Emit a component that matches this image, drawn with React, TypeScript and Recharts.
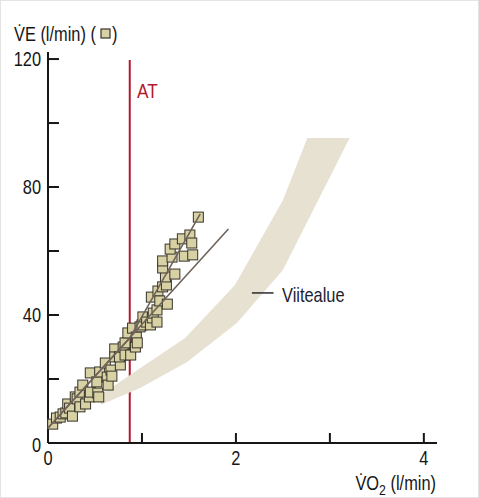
import React from 'react';
import { ScatterChart, Scatter, XAxis, YAxis, ReferenceLine } from 'recharts';

const FONT = "'Liberation Sans', Arial, sans-serif";
const SQUEEZE = 0.82; // condensed look of the original lettering
const INK = '#161616';
const RED = '#b3192c';
const BAND = '#e7e1d1';
const MARKER_FILL = '#d7d1a3';
const MARKER_EDGE = '#37332a';
const FIT = '#6e625a';

// measured values: oxygen uptake VO2 (l/min) vs ventilation VE (l/min)
const vo2 = [
  0.05, 0.09, 0.13, 0.16, 0.19, 0.21, 0.23, 0.26, 0.29, 0.31, 0.34, 0.34, 0.37, 0.4, 0.44, 0.45, 0.45,
  0.52, 0.53, 0.54, 0.55, 0.61, 0.63, 0.64, 0.67, 0.68, 0.71, 0.71, 0.77, 0.76, 0.8, 0.82, 0.82, 0.85,
  0.88, 0.9, 0.93, 0.94, 0.95, 0.98, 1.0, 1.01, 1.05, 1.09, 1.11, 1.12, 1.16, 1.16, 1.1, 1.17, 1.19,
  1.27, 1.22, 1.26, 1.25, 1.35, 1.22, 1.22, 1.32, 1.3, 1.35, 1.43, 1.45, 1.51, 1.53, 1.54, 1.6,
];
const ve = [
  5.9, 7.8, 8.1, 9.1, 9.4, 12.2, 10.9, 8.4, 14.4, 13.8, 11.3, 15.9, 18.1, 12.2, 14.4, 21.9, 15.9,
  19.1, 15.6, 14.4, 22.2, 25.0, 20.6, 18.1, 22.8, 20.9, 29.4, 26.9, 24.4, 26.9, 30.0, 27.5, 31.3, 34.4,
  27.5, 35.9, 30.0, 33.1, 31.3, 36.3, 36.9, 39.4, 37.8, 36.9, 39.1, 40.6, 37.8, 41.6, 45.6, 47.5, 44.4,
  43.4, 48.8, 49.4, 51.9, 52.8, 54.7, 56.9, 58.1, 60.6, 62.2, 63.8, 58.4, 65.0, 62.5, 58.8, 70.6,
];

// Viitealue (reference band): upper edge bottom-up, then lower edge top-down
const bandUpperVo2 = [0.52, 0.98, 1.46, 1.99, 2.5, 2.76];
const bandUpperVe = [14.2, 23.4, 32.8, 49.4, 75.9, 95.3];
const bandLowerVo2 = [3.21, 2.5, 2.01, 1.48, 0.98, 0.57];
const bandLowerVe = [95.3, 54.1, 37.5, 25.3, 17.2, 12.0];

// fitted lines
const fitBentVo2 = [0, 0.87, 1.62];
const fitBentVe = [4.7, 32.8, 71.6];
const fitStraightVo2 = [0, 1.92];
const fitStraightVe = [4.7, 66.9];

// anaerobic threshold and the band's leader line
const AT_VO2 = 0.87;
const AT_TOP = 119.7;
const leaderVo2 = [2.17, 2.4];
const leaderVe = [46.9, 46.9];

const xTicks = [0, 1, 2, 3, 4];
const xLabelled = [0, 2, 4];
const yTicks = [0, 20, 40, 60, 80, 100, 120];
const yLabelled = [0, 40, 80, 120];

const zip = (xs: number[], ys: number[]) => xs.map((x, i) => ({ x, y: ys[i] }));

const points = zip(vo2, ve);
const band = [...zip(bandUpperVo2, bandUpperVe), ...zip(bandLowerVo2, bandLowerVe)];
const fitBent = zip(fitBentVo2, fitBentVe);
const fitStraight = zip(fitStraightVo2, fitStraightVe);
const leader = zip(leaderVo2, leaderVe);

const hidden = () => <g />;

const Square = (p: any) => (
  <rect x={p.cx - 5} y={p.cy - 5} width={10} height={10} fill={MARKER_FILL} stroke={MARKER_EDGE} strokeWidth={1} />
);

const bandShape = (p: any) => {
  const pts = (p.points || []) as { x: number; y: number }[];
  if (!pts.length) return <g />;
  const d = 'M' + pts.map((pt) => `${pt.x},${pt.y}`).join('L') + 'Z';
  return <path d={d} fill={BAND} stroke="none" />;
};

// text squeezed horizontally to mimic a condensed face
const Narrow = ({ x, y, size = 20, anchor = 'start', fill = INK, children }: any) => (
  <text
    transform={`translate(${x},${y}) scale(${SQUEEZE},1)`}
    textAnchor={anchor}
    fontFamily={FONT}
    fontSize={size}
    fill={fill}
  >
    {children}
  </text>
);

const XTick = ({ x, y, payload }: any) => (
  <g>
    {payload.value !== 0 && <line x1={x} x2={x} y1={y} y2={y - 10} stroke={INK} strokeWidth={2} />}
    {xLabelled.includes(payload.value) && (
      <Narrow x={x} y={y + 22} size={20} anchor="middle">
        {payload.value}
      </Narrow>
    )}
  </g>
);

const YTick = ({ x, y, payload }: any) => (
  <g>
    {payload.value !== 0 && <line x1={x} x2={x + 11} y1={y} y2={y} stroke={INK} strokeWidth={2} />}
    {yLabelled.includes(payload.value) && (
      <Narrow x={x - 7} y={y + (payload.value === 0 ? 9 : 7)} size={20} anchor="end">
        {payload.value}
      </Narrow>
    )}
  </g>
);

export default function App() {
  return (
    <div style={{ position: 'absolute', left: 0, top: 0, width: 479, height: 498, background: '#fff' }}>
      <ScatterChart width={479} height={498} margin={{ top: 52, right: 42, bottom: 25, left: 8 }}>
        <XAxis
          type="number"
          dataKey="x"
          domain={[0, 4.14]}
          ticks={xTicks}
          interval={0}
          tickSize={0}
          tickMargin={0}
          tickLine={false}
          axisLine={{ stroke: INK, strokeWidth: 2 }}
          tick={(props: any) => <XTick {...props} />}
          height={30}
        />
        <YAxis
          type="number"
          dataKey="y"
          domain={[0, 122.2]}
          ticks={yTicks}
          interval={0}
          tickSize={0}
          tickMargin={0}
          tickLine={false}
          axisLine={{ stroke: INK, strokeWidth: 2 }}
          tick={(props: any) => <YTick {...props} />}
          width={40}
        />
        <Scatter data={band} isAnimationActive={false} shape={hidden} line={bandShape} />
        <Scatter data={leader} isAnimationActive={false} shape={hidden} line={{ stroke: '#2a2a2a', strokeWidth: 1.5 }} />
        <Scatter data={points} isAnimationActive={false} shape={Square} />
        <Scatter data={fitStraight} isAnimationActive={false} shape={hidden} line={{ stroke: FIT, strokeWidth: 1.6 }} />
        <Scatter data={fitBent} isAnimationActive={false} shape={hidden} line={{ stroke: FIT, strokeWidth: 1.6 }} />
        <ReferenceLine
          segment={[
            { x: AT_VO2, y: 0 },
            { x: AT_VO2, y: AT_TOP },
          ]}
          stroke={RED}
          strokeWidth={2}
        />
        <Narrow x={137} y={98} size={21} fill={RED}>AT</Narrow>
        <Narrow x={282} y={302} size={20} fill="#1c2230">Viitealue</Narrow>
        <Narrow x={14} y={41} size={20}>{'V\u0307E (l/min) ('}</Narrow>
        <rect x={101} y={29} width={9} height={9} fill={MARKER_FILL} stroke={MARKER_EDGE} strokeWidth={1.2} />
        <Narrow x={112} y={41} size={20}>)</Narrow>
        <Narrow x={436} y={490} size={20} anchor="end">
          {'V\u0307O'}
          <tspan fontSize={15} dy={5}>2</tspan>
          <tspan dy={-5}>{' (l/min)'}</tspan>
        </Narrow>
      </ScatterChart>
      <div
        style={{
          position: 'absolute',
          left: 0,
          top: 0,
          width: 479,
          height: 498,
          boxSizing: 'border-box',
          border: '1px solid #e4e4e4',
          pointerEvents: 'none',
        }}
      />
    </div>
  );
}
